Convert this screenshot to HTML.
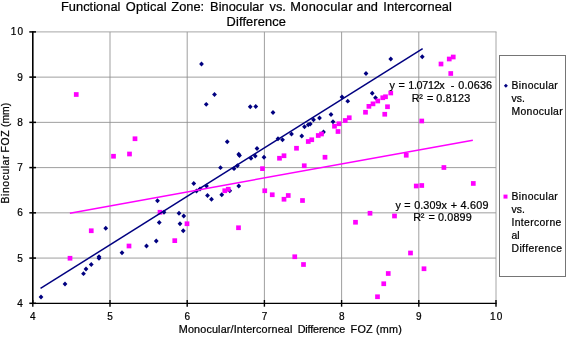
<!DOCTYPE html>
<html><head><meta charset="utf-8"><title>Functional Optical Zone</title>
<style>
html,body{margin:0;padding:0;background:#fff;}
svg{display:block;}
text{font-family:"Liberation Sans",Arial,sans-serif;fill:#000;stroke:#000;stroke-width:0.22px;}
</style></head><body>
<svg width="567" height="337" viewBox="0 0 567 337">
<rect x="0" y="0" width="567" height="337" fill="#fff"/>

<line x1="32.8" x2="496.0" y1="258.07" y2="258.07" stroke="#8e8e8e" stroke-width="0.85"/>
<line x1="32.8" x2="496.0" y1="212.83" y2="212.83" stroke="#8e8e8e" stroke-width="0.85"/>
<line x1="32.8" x2="496.0" y1="167.60" y2="167.60" stroke="#8e8e8e" stroke-width="0.85"/>
<line x1="32.8" x2="496.0" y1="122.37" y2="122.37" stroke="#8e8e8e" stroke-width="0.85"/>
<line x1="32.8" x2="496.0" y1="77.13" y2="77.13" stroke="#8e8e8e" stroke-width="0.85"/>
<line y1="31.9" y2="303.3" x1="110.00" x2="110.00" stroke="#8e8e8e" stroke-width="0.85"/>
<line y1="31.9" y2="303.3" x1="187.20" x2="187.20" stroke="#8e8e8e" stroke-width="0.85"/>
<line y1="31.9" y2="303.3" x1="264.40" x2="264.40" stroke="#8e8e8e" stroke-width="0.85"/>
<line y1="31.9" y2="303.3" x1="341.60" x2="341.60" stroke="#8e8e8e" stroke-width="0.85"/>
<line y1="31.9" y2="303.3" x1="418.80" x2="418.80" stroke="#8e8e8e" stroke-width="0.85"/>
<line x1="32.8" x2="496.5" y1="31.9" y2="31.9" stroke="#9c9c9c" stroke-width="0.9"/>
<line x1="496.0" x2="496.0" y1="31.9" y2="303.3" stroke="#9c9c9c" stroke-width="0.9"/>
<rect x="499.5" y="55.5" width="66" height="221" fill="#fff" stroke="#757575" stroke-width="1"/>
<path d="M38.60 297.00L41.00 294.60L43.40 297.00L41.00 299.40Z" fill="#000080"/>
<path d="M62.60 284.00L65.00 281.60L67.40 284.00L65.00 286.40Z" fill="#000080"/>
<path d="M81.10 273.65L83.50 271.25L85.90 273.65L83.50 276.05Z" fill="#000080"/>
<path d="M83.60 269.00L86.00 266.60L88.40 269.00L86.00 271.40Z" fill="#000080"/>
<path d="M88.85 264.50L91.25 262.10L93.65 264.50L91.25 266.90Z" fill="#000080"/>
<path d="M96.60 256.75L99.00 254.35L101.40 256.75L99.00 259.15Z" fill="#000080"/>
<path d="M96.60 258.25L99.00 255.85L101.40 258.25L99.00 260.65Z" fill="#000080"/>
<path d="M103.35 228.25L105.75 225.85L108.15 228.25L105.75 230.65Z" fill="#000080"/>
<path d="M119.60 252.75L122.00 250.35L124.40 252.75L122.00 255.15Z" fill="#000080"/>
<path d="M144.10 246.00L146.50 243.60L148.90 246.00L146.50 248.40Z" fill="#000080"/>
<path d="M153.85 241.00L156.25 238.60L158.65 241.00L156.25 243.40Z" fill="#000080"/>
<path d="M156.85 222.50L159.25 220.10L161.65 222.50L159.25 224.90Z" fill="#000080"/>
<path d="M161.60 212.25L164.00 209.85L166.40 212.25L164.00 214.65Z" fill="#000080"/>
<path d="M155.10 200.75L157.50 198.35L159.90 200.75L157.50 203.15Z" fill="#000080"/>
<path d="M176.60 213.25L179.00 210.85L181.40 213.25L179.00 215.65Z" fill="#000080"/>
<path d="M181.35 216.00L183.75 213.60L186.15 216.00L183.75 218.40Z" fill="#000080"/>
<path d="M177.60 223.75L180.00 221.35L182.40 223.75L180.00 226.15Z" fill="#000080"/>
<path d="M180.85 230.75L183.25 228.35L185.65 230.75L183.25 233.15Z" fill="#000080"/>
<path d="M191.35 183.50L193.75 181.10L196.15 183.50L193.75 185.90Z" fill="#000080"/>
<path d="M194.10 191.00L196.50 188.60L198.90 191.00L196.50 193.40Z" fill="#000080"/>
<path d="M197.60 189.00L200.00 186.60L202.40 189.00L200.00 191.40Z" fill="#000080"/>
<path d="M204.10 186.00L206.50 183.60L208.90 186.00L206.50 188.40Z" fill="#000080"/>
<path d="M205.10 195.50L207.50 193.10L209.90 195.50L207.50 197.90Z" fill="#000080"/>
<path d="M209.10 199.25L211.50 196.85L213.90 199.25L211.50 201.65Z" fill="#000080"/>
<path d="M219.35 194.75L221.75 192.35L224.15 194.75L221.75 197.15Z" fill="#000080"/>
<path d="M227.35 190.75L229.75 188.35L232.15 190.75L229.75 193.15Z" fill="#000080"/>
<path d="M236.35 186.00L238.75 183.60L241.15 186.00L238.75 188.40Z" fill="#000080"/>
<path d="M218.10 167.65L220.50 165.25L222.90 167.65L220.50 170.05Z" fill="#000080"/>
<path d="M231.60 168.65L234.00 166.25L236.40 168.65L234.00 171.05Z" fill="#000080"/>
<path d="M235.00 165.75L237.40 163.35L239.80 165.75L237.40 168.15Z" fill="#000080"/>
<path d="M224.85 141.75L227.25 139.35L229.65 141.75L227.25 144.15Z" fill="#000080"/>
<path d="M236.35 154.25L238.75 151.85L241.15 154.25L238.75 156.65Z" fill="#000080"/>
<path d="M237.10 155.50L239.50 153.10L241.90 155.50L239.50 157.90Z" fill="#000080"/>
<path d="M254.60 148.50L257.00 146.10L259.40 148.50L257.00 150.90Z" fill="#000080"/>
<path d="M248.60 158.25L251.00 155.85L253.40 158.25L251.00 160.65Z" fill="#000080"/>
<path d="M252.85 156.00L255.25 153.60L257.65 156.00L255.25 158.40Z" fill="#000080"/>
<path d="M261.60 157.25L264.00 154.85L266.40 157.25L264.00 159.65Z" fill="#000080"/>
<path d="M199.10 64.00L201.50 61.60L203.90 64.00L201.50 66.40Z" fill="#000080"/>
<path d="M212.10 94.50L214.50 92.10L216.90 94.50L214.50 96.90Z" fill="#000080"/>
<path d="M203.85 104.35L206.25 101.95L208.65 104.35L206.25 106.75Z" fill="#000080"/>
<path d="M247.85 106.75L250.25 104.35L252.65 106.75L250.25 109.15Z" fill="#000080"/>
<path d="M253.35 106.50L255.75 104.10L258.15 106.50L255.75 108.90Z" fill="#000080"/>
<path d="M270.60 112.50L273.00 110.10L275.40 112.50L273.00 114.90Z" fill="#000080"/>
<path d="M275.60 138.75L278.00 136.35L280.40 138.75L278.00 141.15Z" fill="#000080"/>
<path d="M280.10 139.75L282.50 137.35L284.90 139.75L282.50 142.15Z" fill="#000080"/>
<path d="M289.10 134.00L291.50 131.60L293.90 134.00L291.50 136.40Z" fill="#000080"/>
<path d="M299.35 136.00L301.75 133.60L304.15 136.00L301.75 138.40Z" fill="#000080"/>
<path d="M302.10 126.75L304.50 124.35L306.90 126.75L304.50 129.15Z" fill="#000080"/>
<path d="M305.85 124.75L308.25 122.35L310.65 124.75L308.25 127.15Z" fill="#000080"/>
<path d="M307.85 124.00L310.25 121.60L312.65 124.00L310.25 126.40Z" fill="#000080"/>
<path d="M311.10 119.75L313.50 117.35L315.90 119.75L313.50 122.15Z" fill="#000080"/>
<path d="M317.10 118.00L319.50 115.60L321.90 118.00L319.50 120.40Z" fill="#000080"/>
<path d="M328.60 114.50L331.00 112.10L333.40 114.50L331.00 116.90Z" fill="#000080"/>
<path d="M330.60 121.75L333.00 119.35L335.40 121.75L333.00 124.15Z" fill="#000080"/>
<path d="M321.10 132.00L323.50 129.60L325.90 132.00L323.50 134.40Z" fill="#000080"/>
<path d="M339.60 97.00L342.00 94.60L344.40 97.00L342.00 99.40Z" fill="#000080"/>
<path d="M345.35 101.15L347.75 98.75L350.15 101.15L347.75 103.55Z" fill="#000080"/>
<path d="M369.85 93.25L372.25 90.85L374.65 93.25L372.25 95.65Z" fill="#000080"/>
<path d="M373.10 97.75L375.50 95.35L377.90 97.75L375.50 100.15Z" fill="#000080"/>
<path d="M363.60 73.50L366.00 71.10L368.40 73.50L366.00 75.90Z" fill="#000080"/>
<path d="M388.35 59.00L390.75 56.60L393.15 59.00L390.75 61.40Z" fill="#000080"/>
<path d="M419.85 56.75L422.25 54.35L424.65 56.75L422.25 59.15Z" fill="#000080"/>
<rect x="73.90" y="92.15" width="4.7" height="4.7" fill="#ff00ff"/>
<rect x="111.15" y="153.90" width="4.7" height="4.7" fill="#ff00ff"/>
<rect x="127.15" y="151.65" width="4.7" height="4.7" fill="#ff00ff"/>
<rect x="132.65" y="136.40" width="4.7" height="4.7" fill="#ff00ff"/>
<rect x="67.65" y="255.90" width="4.7" height="4.7" fill="#ff00ff"/>
<rect x="88.90" y="228.40" width="4.7" height="4.7" fill="#ff00ff"/>
<rect x="126.65" y="243.65" width="4.7" height="4.7" fill="#ff00ff"/>
<rect x="157.65" y="209.90" width="4.7" height="4.7" fill="#ff00ff"/>
<rect x="172.40" y="238.30" width="4.7" height="4.7" fill="#ff00ff"/>
<rect x="184.65" y="221.40" width="4.7" height="4.7" fill="#ff00ff"/>
<rect x="222.40" y="188.40" width="4.7" height="4.7" fill="#ff00ff"/>
<rect x="225.90" y="186.90" width="4.7" height="4.7" fill="#ff00ff"/>
<rect x="236.15" y="225.40" width="4.7" height="4.7" fill="#ff00ff"/>
<rect x="260.15" y="166.30" width="4.7" height="4.7" fill="#ff00ff"/>
<rect x="262.40" y="188.40" width="4.7" height="4.7" fill="#ff00ff"/>
<rect x="269.90" y="192.40" width="4.7" height="4.7" fill="#ff00ff"/>
<rect x="281.65" y="196.90" width="4.7" height="4.7" fill="#ff00ff"/>
<rect x="285.90" y="193.15" width="4.7" height="4.7" fill="#ff00ff"/>
<rect x="300.15" y="198.15" width="4.7" height="4.7" fill="#ff00ff"/>
<rect x="301.90" y="163.40" width="4.7" height="4.7" fill="#ff00ff"/>
<rect x="292.40" y="254.40" width="4.7" height="4.7" fill="#ff00ff"/>
<rect x="301.15" y="262.15" width="4.7" height="4.7" fill="#ff00ff"/>
<rect x="277.15" y="155.90" width="4.7" height="4.7" fill="#ff00ff"/>
<rect x="281.65" y="153.40" width="4.7" height="4.7" fill="#ff00ff"/>
<rect x="294.15" y="145.90" width="4.7" height="4.7" fill="#ff00ff"/>
<rect x="305.90" y="139.15" width="4.7" height="4.7" fill="#ff00ff"/>
<rect x="309.40" y="137.40" width="4.7" height="4.7" fill="#ff00ff"/>
<rect x="315.90" y="133.15" width="4.7" height="4.7" fill="#ff00ff"/>
<rect x="319.15" y="131.65" width="4.7" height="4.7" fill="#ff00ff"/>
<rect x="322.65" y="154.90" width="4.7" height="4.7" fill="#ff00ff"/>
<rect x="335.65" y="129.15" width="4.7" height="4.7" fill="#ff00ff"/>
<rect x="332.15" y="123.90" width="4.7" height="4.7" fill="#ff00ff"/>
<rect x="336.65" y="121.40" width="4.7" height="4.7" fill="#ff00ff"/>
<rect x="342.90" y="118.15" width="4.7" height="4.7" fill="#ff00ff"/>
<rect x="346.90" y="115.40" width="4.7" height="4.7" fill="#ff00ff"/>
<rect x="363.15" y="109.90" width="4.7" height="4.7" fill="#ff00ff"/>
<rect x="366.55" y="104.00" width="4.7" height="4.7" fill="#ff00ff"/>
<rect x="370.65" y="101.50" width="4.7" height="4.7" fill="#ff00ff"/>
<rect x="375.40" y="98.65" width="4.7" height="4.7" fill="#ff00ff"/>
<rect x="380.40" y="95.40" width="4.7" height="4.7" fill="#ff00ff"/>
<rect x="383.15" y="94.40" width="4.7" height="4.7" fill="#ff00ff"/>
<rect x="388.40" y="90.65" width="4.7" height="4.7" fill="#ff00ff"/>
<rect x="385.15" y="104.40" width="4.7" height="4.7" fill="#ff00ff"/>
<rect x="382.40" y="111.90" width="4.7" height="4.7" fill="#ff00ff"/>
<rect x="419.40" y="118.65" width="4.7" height="4.7" fill="#ff00ff"/>
<rect x="403.90" y="152.90" width="4.7" height="4.7" fill="#ff00ff"/>
<rect x="441.55" y="165.15" width="4.7" height="4.7" fill="#ff00ff"/>
<rect x="413.90" y="183.65" width="4.7" height="4.7" fill="#ff00ff"/>
<rect x="419.40" y="183.15" width="4.7" height="4.7" fill="#ff00ff"/>
<rect x="367.65" y="210.90" width="4.7" height="4.7" fill="#ff00ff"/>
<rect x="392.15" y="213.65" width="4.7" height="4.7" fill="#ff00ff"/>
<rect x="353.15" y="219.90" width="4.7" height="4.7" fill="#ff00ff"/>
<rect x="408.15" y="250.65" width="4.7" height="4.7" fill="#ff00ff"/>
<rect x="421.65" y="266.40" width="4.7" height="4.7" fill="#ff00ff"/>
<rect x="385.90" y="271.15" width="4.7" height="4.7" fill="#ff00ff"/>
<rect x="381.40" y="281.40" width="4.7" height="4.7" fill="#ff00ff"/>
<rect x="375.15" y="294.40" width="4.7" height="4.7" fill="#ff00ff"/>
<rect x="438.65" y="61.65" width="4.7" height="4.7" fill="#ff00ff"/>
<rect x="446.90" y="56.65" width="4.7" height="4.7" fill="#ff00ff"/>
<rect x="450.90" y="54.65" width="4.7" height="4.7" fill="#ff00ff"/>
<rect x="448.40" y="71.15" width="4.7" height="4.7" fill="#ff00ff"/>
<rect x="470.95" y="181.10" width="4.7" height="4.7" fill="#ff00ff"/>
<line x1="40.52" y1="288.45" x2="422.66" y2="48.60" stroke="#000080" stroke-width="1.5"/>
<line x1="69.86" y1="213.14" x2="472.84" y2="140.18" stroke="#ff00ff" stroke-width="1.5"/>
<line x1="32.8" x2="32.8" y1="31.2" y2="304.0" stroke="#000" stroke-width="1.6"/>
<line x1="31.9" x2="496.6" y1="303.4" y2="303.4" stroke="#000" stroke-width="1.4"/>
<line x1="29.3" x2="36" y1="303.30" y2="303.30" stroke="#000" stroke-width="1.5"/>
<line y1="300" y2="306.7" x1="32.80" x2="32.80" stroke="#000" stroke-width="1.4"/>
<line x1="29.3" x2="36" y1="258.07" y2="258.07" stroke="#000" stroke-width="1.5"/>
<line y1="300" y2="306.7" x1="110.00" x2="110.00" stroke="#000" stroke-width="1.4"/>
<line x1="29.3" x2="36" y1="212.83" y2="212.83" stroke="#000" stroke-width="1.5"/>
<line y1="300" y2="306.7" x1="187.20" x2="187.20" stroke="#000" stroke-width="1.4"/>
<line x1="29.3" x2="36" y1="167.60" y2="167.60" stroke="#000" stroke-width="1.5"/>
<line y1="300" y2="306.7" x1="264.40" x2="264.40" stroke="#000" stroke-width="1.4"/>
<line x1="29.3" x2="36" y1="122.37" y2="122.37" stroke="#000" stroke-width="1.5"/>
<line y1="300" y2="306.7" x1="341.60" x2="341.60" stroke="#000" stroke-width="1.4"/>
<line x1="29.3" x2="36" y1="77.13" y2="77.13" stroke="#000" stroke-width="1.5"/>
<line y1="300" y2="306.7" x1="418.80" x2="418.80" stroke="#000" stroke-width="1.4"/>
<line x1="29.3" x2="36" y1="31.90" y2="31.90" stroke="#000" stroke-width="1.5"/>
<line y1="300" y2="306.7" x1="496.00" x2="496.00" stroke="#000" stroke-width="1.4"/>
<text x="32.90" y="320.3" font-size="10" text-anchor="middle">4</text>
<text x="22.8" y="306.75" font-size="10" text-anchor="end">4</text>
<text x="110.10" y="320.3" font-size="10" text-anchor="middle">5</text>
<text x="22.8" y="261.52" font-size="10" text-anchor="end">5</text>
<text x="187.30" y="320.3" font-size="10" text-anchor="middle">6</text>
<text x="22.8" y="216.28" font-size="10" text-anchor="end">6</text>
<text x="264.50" y="320.3" font-size="10" text-anchor="middle">7</text>
<text x="22.8" y="171.05" font-size="10" text-anchor="end">7</text>
<text x="341.70" y="320.3" font-size="10" text-anchor="middle">8</text>
<text x="22.8" y="125.82" font-size="10" text-anchor="end">8</text>
<text x="418.90" y="320.3" font-size="10" text-anchor="middle">9</text>
<text x="22.8" y="80.58" font-size="10" text-anchor="end">9</text>
<text x="490.10" y="320.3" font-size="10" letter-spacing="1.1">10</text>
<text x="10.8" y="35.35" font-size="10" letter-spacing="1.1">10</text>
<text y="10.5" font-size="12.8"><tspan x="61.00" textLength="59.40" lengthAdjust="spacing">Functional</tspan> <tspan x="125.85" textLength="40.80" lengthAdjust="spacing">Optical</tspan> <tspan x="171.35" textLength="32.80" lengthAdjust="spacing">Zone:</tspan> <tspan x="210.10" textLength="53.55" lengthAdjust="spacing">Binocular</tspan> <tspan x="269.60" textLength="16.30" lengthAdjust="spacing">vs.</tspan> <tspan x="290.35" textLength="62.05" lengthAdjust="spacing">Monocular</tspan> <tspan x="356.60" textLength="21.30" lengthAdjust="spacing">and</tspan> <tspan x="383.35" textLength="68.55" lengthAdjust="spacing">Intercorneal</tspan></text>
<text y="25.7" font-size="12.8"><tspan x="226.60" textLength="59.30" lengthAdjust="spacing">Difference</tspan></text>
<text y="333.2" font-size="10.8"><tspan x="178.80" textLength="113.60" lengthAdjust="spacing">Monocular/Intercorneal</tspan> <tspan x="297.70" textLength="47.60" lengthAdjust="spacing">Difference</tspan> <tspan x="350.60" textLength="22.00" lengthAdjust="spacing">FOZ</tspan> <tspan x="376.00" textLength="25.80" lengthAdjust="spacing">(mm)</tspan></text>
<g transform="translate(8.9,0) rotate(-90)">
<text y="0" font-size="10.4"><tspan x="-203.40" textLength="47.80" lengthAdjust="spacing">Binocular</tspan> <tspan x="-152.50" textLength="22.10" lengthAdjust="spacing">FOZ</tspan> <tspan x="-127.00" textLength="24.10" lengthAdjust="spacing">(mm)</tspan></text>
</g>
<text y="89.2" font-size="10.8"><tspan x="389.50" textLength="5.20" lengthAdjust="spacing">y</tspan> <tspan x="398.40" textLength="6.75" lengthAdjust="spacing">=</tspan> <tspan x="408.30" textLength="36.40" lengthAdjust="spacing">1.0712x</tspan> <tspan x="450.80" textLength="4.00" lengthAdjust="spacing">-</tspan> <tspan x="458.30" textLength="33.80" lengthAdjust="spacing">0.0636</tspan></text>
<text y="101.8" font-size="10.8"><tspan x="411.70" textLength="11.20" lengthAdjust="spacing">R²</tspan> <tspan x="427.10" textLength="6.70" lengthAdjust="spacing">=</tspan> <tspan x="436.35" textLength="33.95" lengthAdjust="spacing">0.8123</tspan></text>
<text y="208.5" font-size="10.8"><tspan x="395.50" textLength="5.30" lengthAdjust="spacing">y</tspan> <tspan x="404.35" textLength="6.75" lengthAdjust="spacing">=</tspan> <tspan x="414.20" textLength="32.80" lengthAdjust="spacing">0.309x</tspan> <tspan x="450.80" textLength="6.70" lengthAdjust="spacing">+</tspan> <tspan x="460.60" textLength="27.90" lengthAdjust="spacing">4.609</tspan></text>
<text y="221.1" font-size="10.8"><tspan x="413.20" textLength="11.20" lengthAdjust="spacing">R²</tspan> <tspan x="428.60" textLength="6.70" lengthAdjust="spacing">=</tspan> <tspan x="437.90" textLength="33.90" lengthAdjust="spacing">0.0899</tspan></text>
<path d="M503.9 85.7L505.9 83.7L507.9 85.7L505.9 87.7Z" fill="#000080"/>
<rect x="503.5" y="194.6" width="4" height="4" fill="#ff00ff"/>
<text x="511.5" y="89.3" font-size="10.4" textLength="46.3" lengthAdjust="spacing">Binocular</text>
<text x="511.5" y="102.3" font-size="10.4">vs.</text>
<text x="511.5" y="114.9" font-size="10.4" textLength="51.1" lengthAdjust="spacing">Monocular</text>
<text x="511.5" y="200.3" font-size="10.4" textLength="46.3" lengthAdjust="spacing">Binocular</text>
<text x="511.5" y="213.3" font-size="10.4">vs.</text>
<text x="511.5" y="226.3" font-size="10.4" textLength="49.8" lengthAdjust="spacing">Intercorne</text>
<text x="511.5" y="239.3" font-size="10.4">al</text>
<text x="511.5" y="252.2" font-size="10.4" textLength="50.5" lengthAdjust="spacing">Difference</text>
</svg></body></html>
